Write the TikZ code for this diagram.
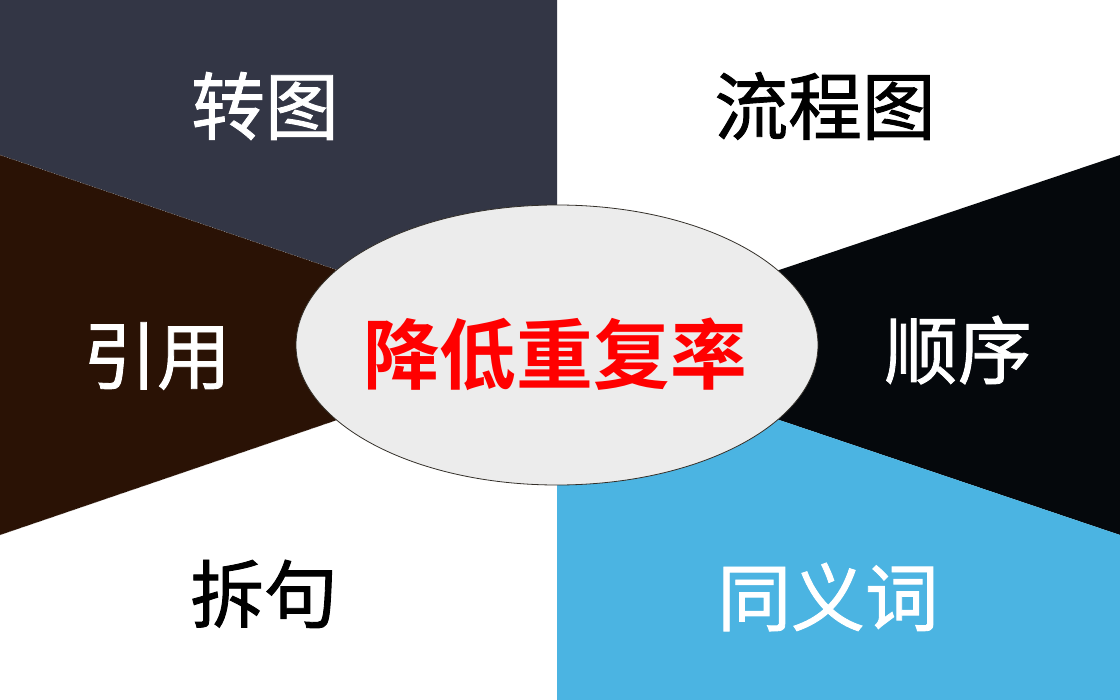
\documentclass[tikz,border=0pt]{standalone}
\usepackage{fontspec}
\setmainfont{Noto Sans CJK SC}
\newfontfamily\cjklabel[FakeBold=1.2]{Noto Sans CJK SC}
\newfontfamily\cjkcenter{Noto Sans CJK SC Bold}
\definecolor{slate}{HTML}{333645}
\definecolor{brownish}{HTML}{2A1205}
\definecolor{nearblack}{HTML}{05080C}
\definecolor{skyblue}{HTML}{4BB4E2}
\definecolor{ellfill}{HTML}{ECECEC}
\definecolor{hotred}{HTML}{FF0000}
\tikzset{
  region/.style={draw=none},
  seam/.style={draw=gray!70, line width=0.5bp, dotted},
  label/.style={font=\cjklabel\fontsize{74}{74}\selectfont, inner sep=0pt, anchor=center},
  hub/.style={ellipse, draw=black!85!olive, line width=0.8bp, fill=ellfill,
              minimum width=522bp, minimum height=280bp, inner sep=0pt},
  hubtext/.style={font=\cjkcenter\fontsize{77}{77}\selectfont, text=hotred, inner sep=0pt, anchor=center}
}
\usetikzlibrary{shapes.geometric}
\begin{document}
\begin{tikzpicture}[x=1bp, y=-1bp]
  \useasboundingbox (0,0) rectangle (1120,700);
  \fill[white] (0,0) rectangle (1120,700);
  \coordinate (c) at (557,345);
  \coordinate (lt) at (0,155);
  \coordinate (lb) at (0,535);
  \coordinate (rt) at (1120,155);
  \coordinate (rb) at (1120,535);
  % regions
  \fill[slate] (0,0) -- (557,0) -- (c) -- (lt) -- cycle;
  \fill[brownish] (lt) -- (c) -- (lb) -- cycle;
  \fill[nearblack] (rt) -- (c) -- (rb) -- cycle;
  \fill[skyblue] (c) -- (rb) -- (1120,700) -- (557,700) -- cycle;
  % seams
  \draw[seam] (lt) -- (c);
  \draw[seam] (lb) -- (c);
  % labels
  \node[label, text=white] (zhuantu) at (265,106) {转图};
  \node[label, text=black] (liucheng) at (825,106) {流程图};
  \node[label, text=white] (yinyong) at (157,356) {引用};
  \node[label, text=white] (shunxu) at (958,350) {顺序};
  \node[label, text=black] (chaiju) at (264,594) {拆句};
  \node[label, text=white] (tongyi) at (828,597) {同义词};
  % hub
  \node[hub] (hub) at (c) {};
  \node[hubtext] (hubtitle) at (555,354) {降低重复率};
\end{tikzpicture}
\end{document}
